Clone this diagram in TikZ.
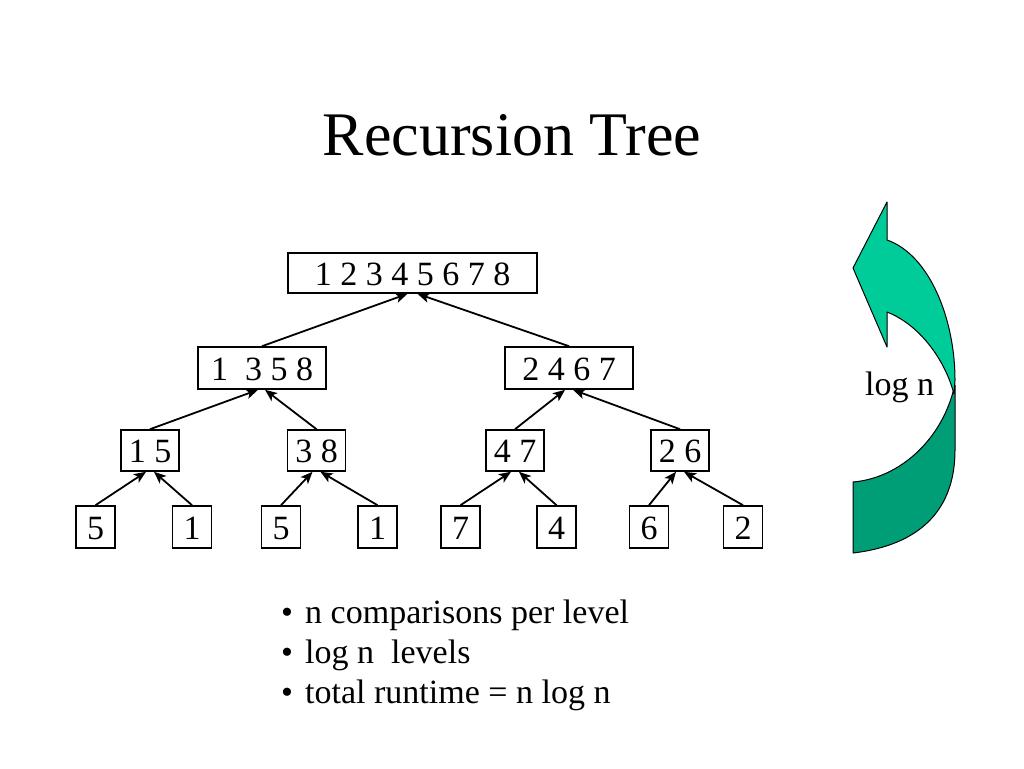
\documentclass[tikz,border=0pt]{standalone}
\usepackage{fontspec}
\setmainfont{Liberation Serif}
\usetikzlibrary{arrows.meta}
\definecolor{arrlight}{RGB}{0,204,153}
\definecolor{arrdark}{RGB}{0,158,118}
\begin{document}
\begin{tikzpicture}[x=1pt,y=-1pt,
  box/.style={draw,line width=1.6pt,inner sep=0pt,font=\fontsize{34}{40}\selectfont,text height=24pt,text depth=0pt},
  leaf/.style={box,minimum width=39pt,minimum height=42pt},
  edge/.style={line width=1.8pt,-{Stealth[length=12pt,width=10pt,inset=3pt]}},
  txt/.style={inner sep=0pt,font=\fontsize{34}{40}\selectfont}]
\useasboundingbox (0,0) rectangle (1024,768);
\fill[white] (0,0) rectangle (1024,768);
% title
\node[inner sep=0pt,anchor=base,font=\fontsize{62}{70}\selectfont] (title) at (512,155) {Recursion Tree};
% tree
\node[box,minimum width=249pt,minimum height=40pt] (r) at (412.5,273) {1 2 3 4 5 6 7 8};
\node[box,minimum width=128pt,minimum height=42pt] (a) at (262,368) {1\ \ 3 5 8};
\node[box,minimum width=128pt,minimum height=42pt] (b) at (569,368) {2 4 6 7};
\node[box,minimum width=58pt,minimum height=41pt] (aa) at (150,450.5) {1 5};
\node[box,minimum width=58pt,minimum height=41pt] (ab) at (316.5,450.5) {3 8};
\node[box,minimum width=58pt,minimum height=41pt] (ba) at (515,450.5) {4 7};
\node[box,minimum width=58pt,minimum height=41pt] (bb) at (680,450.5) {2 6};
\node[leaf] (l1) at (95.5,527) {5};
\node[leaf] (l2) at (192,527) {1};
\node[leaf] (l3) at (281,527) {5};
\node[leaf] (l4) at (377.5,527) {1};
\node[leaf] (l5) at (460.5,527) {7};
\node[leaf] (l6) at (556.5,527) {4};
\node[leaf] (l7) at (649,527) {6};
\node[leaf] (l8) at (743,527) {2};
% edges
\draw[edge] (a.north) -- ([xshift=-5pt]r.south);
\draw[edge] (b.north) -- ([xshift=5pt]r.south);
\draw[edge] (aa.north) -- ([xshift=-4pt]a.south);
\draw[edge] (ab.north) -- ([xshift=3pt]a.south);
\draw[edge] (ba.north) -- ([xshift=-4pt]b.south);
\draw[edge] (bb.north) -- ([xshift=4pt]b.south);
\draw[edge] (l1.north) -- ([xshift=-4pt]aa.south);
\draw[edge] (l2.north) -- ([xshift=4pt]aa.south);
\draw[edge] (l3.north) -- ([xshift=-4pt]ab.south);
\draw[edge] (l4.north) -- ([xshift=4pt]ab.south);
\draw[edge] (l5.north) -- ([xshift=-4pt]ba.south);
\draw[edge] (l6.north) -- ([xshift=4pt]ba.south);
\draw[edge] (l7.north) -- ([xshift=-4pt]bb.south);
\draw[edge] (l8.north) -- ([xshift=4pt]bb.south);
% curved arrow
\filldraw[fill=arrdark,draw=black,line width=1pt,line join=round]
  (953,392) .. controls (940,440) and (900,478) .. (853,482)
  -- (853,553) .. controls (920,545) and (955,510) .. (955,450)
  -- (955,385) -- cycle;
\filldraw[fill=arrlight,draw=black,line width=1pt,line join=round]
  (887,202) -- (853,268) -- (887,347) -- (887,312)
  .. controls (920,325) and (945,360) .. (954,394)
  -- (955,380) .. controls (955,320) and (930,255) .. (887,240) -- cycle;
\node[txt,anchor=base west] (logn) at (865,395) {log n};
% bullets
\node[txt,anchor=base] (b1) at (287,623) {•};
\node[txt,anchor=base west] (t1) at (305,623) {n comparisons per level};
\node[txt,anchor=base] (b2) at (287,663) {•};
\node[txt,anchor=base west] (t2) at (305,663) {log n\ \ levels};
\node[txt,anchor=base] (b3) at (287,703) {•};
\node[txt,anchor=base west] (t3) at (305,703) {total runtime = n log n};
\end{tikzpicture}
\end{document}
